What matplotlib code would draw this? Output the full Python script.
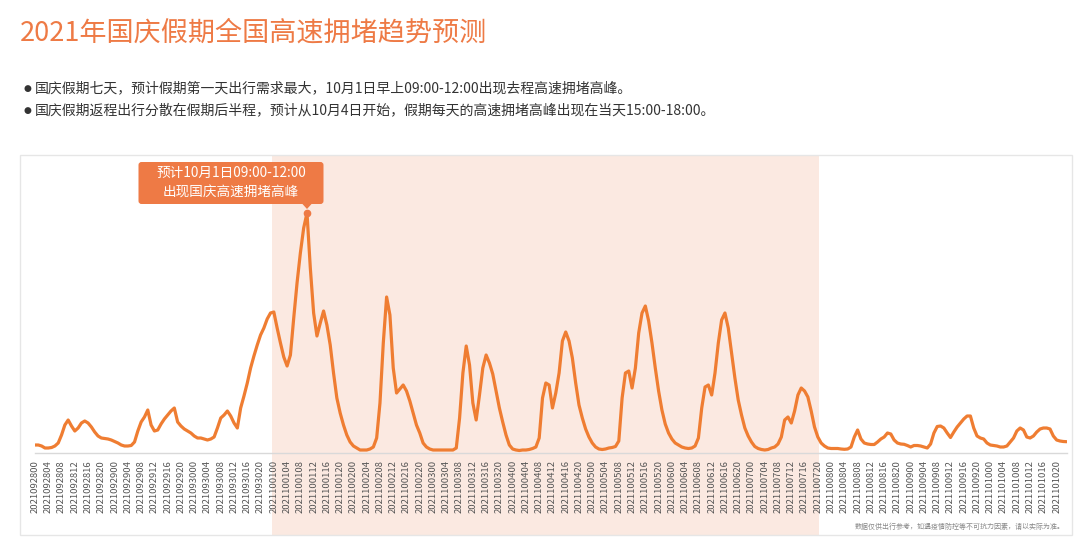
import matplotlib
matplotlib.use("Agg")
import matplotlib.pyplot as plt
from matplotlib.patches import Rectangle, FancyBboxPatch, Polygon
from matplotlib.transforms import IdentityTransform
from datetime import datetime, timedelta
import numpy as np

plt.rcParams['font.family'] = ['Noto Sans CJK SC', 'DejaVu Sans']

# ---------------- data ----------------
TITLE = "2021年国庆假期全国高速拥堵趋势预测"
NOTES = [
    "国庆假期七天，预计假期第一天出行需求最大，10月1日早上09:00-12:00出现去程高速拥堵高峰。",
    "国庆假期返程出行分散在假期后半程，预计从10月4日开始，假期每天的高速拥堵高峰出现在当天15:00-18:00。",
]
DISCLAIMER = "数据仅供出行参考，如遇疫情防控等不可抗力因素，请以实际为准。"
PEAK_TEXT = "预计10月1日09:00-12:00\n出现国庆高速拥堵高峰"
START_HOUR = "2021092800"
SHADE_START = "2021100100"
SHADE_END = "2021100720"
PEAK_HOUR = "2021100110"

# hourly congestion index (relative units)
congestion = [
    8, 8, 7, 5, 5, 5.5, 7, 10, 18, 28, 33, 27, 22, 25, 30, 32, 30, 26, 21, 17, 15, 14.5, 14, 13,
    11.5, 10, 8, 7, 7, 7.5, 11, 22, 31, 36, 43, 28, 22, 23, 29, 34, 38, 42, 45, 31, 27, 24, 22, 20,
    17, 15, 15, 14, 13, 14, 16, 25, 35, 38, 42, 37, 30, 25, 45, 57, 70, 85, 97, 108, 118, 125, 134, 140,
    141, 125, 110, 96, 87, 98, 135, 170, 200, 225, 240, 185, 140, 117, 130, 142, 128, 108, 80, 55, 40, 28,
    18, 11, 7, 5, 3, 3, 3, 4, 6, 15, 50, 110, 156, 138, 85, 60, 64, 68, 62, 52, 40, 28, 20, 10,
    6, 4, 3, 3, 3, 3, 3, 3, 3, 5, 35, 80, 107, 88, 50, 33, 58, 85, 98, 90, 79, 62, 45, 31, 18, 8,
    4, 3, 2.5, 3, 3, 3.5, 4.5, 6, 15, 55, 70, 68, 45, 60, 80, 112, 121, 112, 95, 70, 48, 35, 24, 16,
    10, 6, 4, 3.5, 4, 5, 5.5, 6.5, 12, 55, 80, 82, 65, 85, 120, 140, 147, 132, 110, 85, 62, 43, 29, 20,
    14, 10, 8, 6, 5, 4.5, 5, 7, 15, 45, 66, 68, 58, 80, 110, 133, 140, 125, 100, 75, 53, 38, 25, 17,
    11, 6.5, 4.5, 3.5, 3, 3.5, 5, 6, 9, 16, 33, 36, 30, 42, 58, 65, 62, 56, 42, 26, 16, 10, 7, 5,
    4.5, 4.5, 4.5, 4, 3.7, 4, 6, 16, 23, 14, 10, 9, 8.5, 8.5, 11, 14, 16, 20, 19, 13, 10, 9, 8.7, 7.5,
    6, 7.5, 7.5, 7, 6, 5, 9, 20, 26.5, 27, 25, 20, 15.5, 21, 26, 30, 34, 37, 37, 25, 17, 15, 14, 10,
    8, 7.5, 7, 6, 6, 7, 11, 15, 22, 25, 23, 16, 15, 17, 21, 24, 25, 25, 24, 17, 13, 12, 11.5, 11.3,
]

t0 = datetime.strptime(START_HOUR, "%Y%m%d%H")
hours = [(t0 + timedelta(hours=i)).strftime("%Y%m%d%H") for i in range(len(congestion))]

# ---------------- style ----------------
ORANGE = "#EF7D32"
BOX = "#EE7A45"
SHADE = "#FBE9E1"
W, H = 1080, 540


def fx(px):
    return px / W


def fy(py):
    return 1 - py / H


fig = plt.figure(figsize=(W / 100, H / 100), dpi=100)
fig.patch.set_facecolor("white")

# outer light frame
fig.patches.append(Rectangle((fx(20), fy(535)), (1072 - 20) / W, (535 - 155) / H,
                             transform=fig.transFigure, fill=False, ec="#e6e6e6", lw=1.0))

ax = fig.add_axes([fx(35), fy(453), (1066.6 - 35) / W, (453 - 155) / H])
ax.set_facecolor("none")
x = np.arange(len(congestion))
ax.set_xlim(0, len(congestion) - 1)
ax.set_ylim(0, 298)

i0 = hours.index(SHADE_START) - 0.5
i1 = hours.index(SHADE_END) + 0.5
ax.axvspan(i0, i1, ymin=-(535 - 453) / 298, ymax=1, color=SHADE, lw=0,
           clip_on=False, zorder=0)

ax.plot(x, congestion, color=ORANGE, lw=2.3, solid_joinstyle="round",
        solid_capstyle="round", zorder=3)

ax.set_xticks(x[::4])
ax.set_xticklabels(hours[::4], rotation=90, fontsize=6.8, color="#555555")
ax.tick_params(axis="x", length=0, pad=5)
ax.set_yticks([])
for s in ["top", "right", "left"]:
    ax.spines[s].set_visible(False)
ax.spines["bottom"].set_color("#d9d9d9")
ax.spines["bottom"].set_linewidth(1.0)

# peak annotation
pk = hours.index(PEAK_HOUR)
ax.plot(pk, congestion[pk], "o", ms=4.5, color=BOX, zorder=5)
px, py = ax.transData.transform((pk, congestion[pk]))
fig.add_artist(FancyBboxPatch((px - 168.5, py + 9), 185, 42,
                              boxstyle="round,pad=0,rounding_size=3",
                              transform=IdentityTransform(), fc=BOX, ec="none"))
fig.add_artist(Polygon([[px - 5, py + 9.5], [px + 5, py + 9.5], [px, py + 4]],
                       closed=True, transform=IdentityTransform(), fc=BOX, ec="none"))
fig.text(px - 76, py + 30, PEAK_TEXT, transform=IdentityTransform(), ha="center",
         va="center", color="white", fontsize=9.8, linespacing=1.5, fontweight="medium")

# titles and notes
fig.text(fx(20), fy(33), TITLE, fontsize=19.5, color=BOX, ha="left", va="center",
         fontweight="medium")
for k, note in enumerate(NOTES):
    yy = 88 + k * 22
    fig.text(fx(27), fy(yy), "●", fontsize=6.5, color="#333333", ha="center", va="center",
             family="DejaVu Sans")
    fig.text(fx(35), fy(yy), note, fontsize=10, color="#333333", ha="left", va="center")

fig.text(fx(1065), fy(527), DISCLAIMER, fontsize=5, color="#888888", ha="right", va="center")

fig.savefig("out.png", dpi=100, facecolor="white")
